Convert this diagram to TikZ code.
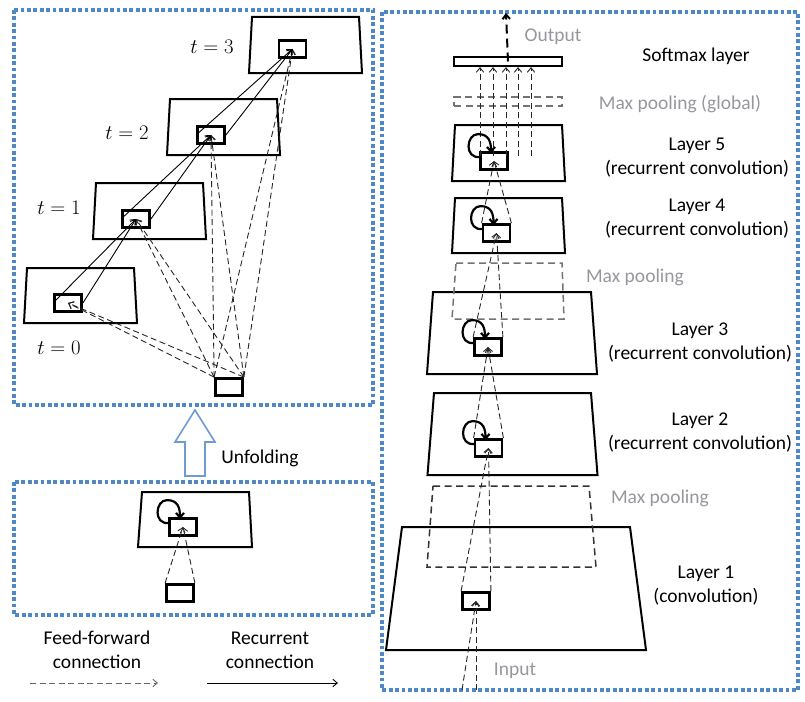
\documentclass[tikz,border=0pt]{standalone}
\usepackage[no-math]{fontspec}
\setmainfont{Carlito}
\usetikzlibrary{calc}
\usetikzlibrary{positioning}
\usetikzlibrary{arrows.meta}
\definecolor{frameblue}{RGB}{79,136,198}
\definecolor{arrowblue}{RGB}{110,155,210}
\definecolor{paletext}{RGB}{150,150,158}
\definecolor{poolgray}{RGB}{115,115,115}

\begin{document}
\begin{tikzpicture}[x=1pt,y=-1pt,>={Straight Barb[length=4.5pt,width=7.5pt]},
    plane/.style={line width=2pt,line join=miter},
    unit/.style={draw,line width=2.8pt,minimum width=27pt,minimum height=17pt,inner sep=0pt},
    ff/.style={->,draw=black!85,line width=0.9pt,dash pattern=on 6pt off 3.5pt},
    rec/.style={->,line width=0.9pt},
    loopback/.style={-{Straight Barb[length=4.5pt,width=8pt]},line width=2.2pt},
    pool/.style={line width=1.5pt,dash pattern=on 7pt off 4.5pt},
    frame/.style={draw=frameblue,line width=3.8pt,dash pattern=on 3.8pt off 2.6pt},
    lbl/.style={font=\fontsize{19.5}{24}\selectfont,align=center,inner sep=0pt},
    pale/.style={lbl,text=paletext}]
    \useasboundingbox (0,0) rectangle (805,701);
    % frames
    \draw[frame] (14,10) rectangle (373,405);
    \draw[frame] (14,482) rectangle (373,615);
    \draw[frame] (382,12) rectangle (798,690);

    % unfolded network in time
    \foreach \cx/\yt/\yb in {80.5/268/323,149.5/183/239,223.5/99/155,305.5/17/73}
        \draw[plane] (\cx-53.5,\yt) -- (\cx+53.5,\yt) -- (\cx+56.5,\yb) -- (\cx-56.5,\yb) -- cycle;
    \foreach \t/\ux/\uy in {0/68/303,1/136/219,2/211/135,3/292.5/49}
        \node[unit] (u\t) at (\ux,\uy) {};
    \node[unit] (x) at (229,387) {};
    \node[lbl] (t3) at (212,47) {$t=3$};
    \node[lbl] (t2) at (127,133) {$t=2$};
    \node[lbl] (t1) at (59,208) {$t=1$};
    \node[lbl] (t0) at (59,348) {$t=0$};
    \foreach \t in {0,...,3} {
        \draw[ff] (x.north west) -- (u\t.center);
        \draw[ff] (x.north east) -- (u\t.center);
    }
    \foreach \t/\n in {0/1,1/2,2/3} {
        \draw[rec] (u\t.west) -- (u\n.center);
        \draw[rec] (u\t.east) -- (u\n.center);
    }

    % unfolding arrow
    \draw[draw=arrowblue,line width=1.6pt,fill=white,line join=miter]
        (195,410) -- (215,442) -- (205,442) -- (205,476) -- (185,476) -- (185,442) -- (175,442) -- cycle;
    \node[lbl] (unfold) at (260,458) {Unfolding};

    % folded network
    \draw[plane] (142,492) -- (249,492) -- (252,547) -- (138,547) -- cycle;
    \node[unit] (b) at (183,527) {};
    \node[unit] (bx) at (180,593) {};
    \draw[ff] (bx.north west) -- (b.center);
    \draw[ff] (bx.north east) -- (b.center);

    % legend
    \node[lbl] (fflbl) at (97,650) {Feed-forward\\connection};
    \node[lbl] (reclbl) at (270,650) {Recurrent\\connection};
    \coordinate (ffa) at (30,683);
    \coordinate (ffb) at (158,683);
    \coordinate (reca) at (207,683);
    \coordinate (recb) at (338,683);
    \draw[ff,draw=black!60] (ffa) -- (ffb);
    \draw[rec] (reca) -- (recb);

    % deep network
    \foreach \cx/\yt/\yb/\ht/\hb in {508.5/125/181/53.5/56.5,508.5/198/253/53.5/56.5,
            512/292/374/79/85,512.5/393/475/78.5/85,516/527/650/114/130}
        \draw[plane] (\cx-\ht,\yt) -- (\cx+\ht,\yt) -- (\cx+\hb,\yb) -- (\cx-\hb,\yb) -- cycle;
    \draw[pool,draw=poolgray] (456,263) -- (562,263) -- (564,319) -- (452,319) -- cycle;
    \draw[pool,draw=black!80] (433,486) -- (589,486) -- (596,567) -- (427,567) -- cycle;
    \node[draw,line width=2.2pt,minimum width=108pt,minimum height=9pt,inner sep=0pt] (soft) at (508,61.5) {};
    \node[pool,draw=poolgray,minimum width=108pt,minimum height=9pt,inner sep=0pt] (gpool) at (508,101.5) {};
    \foreach \s/\ux/\uy in {s1/476/601,s2/488.5/448,s3/488/347,s4/496.5/233,s5/494/161}
        \node[unit] (\s) at (\ux,\uy) {};
    \coordinate (in0) at (462,690);
    \coordinate (in1) at (476,690);
    \coordinate (out) at (506,13);
    \draw[ff] (in0) -- (s1.center);
    \draw[ff] (in1) -- (s1.center);
    \foreach \a/\b in {s1/s2,s2/s3,s3/s4,s4/s5} {
        \draw[ff] (\a.north west) -- (\b.center);
        \draw[ff] (\a.north east) -- (\b.center);
    }
    \foreach \dx in {-26,-13,0,12,25}
        \draw[ff] ($(s5.north)+(\dx+12,5)$) -- ($(soft.south)+(\dx-2,0)$);
    \draw[->,line width=2pt,dash pattern=on 9pt off 5pt] (soft.center) -- (out);
    \foreach \s in {s2,s3,s4,s5,b}
        \draw[loopback] ($(\s.west)+(1,-4)$) .. controls +(-16,2) and +(-12,0) .. ($(\s.north)+(-16,-17)$)
            .. controls +(11,0) and +(0,-11) .. ($(\s.north)+(-3,2)$);

    % labels
    \node[pale] (outlbl) at (553,37) {Output};
    \node[lbl] (softlbl) at (696,56) {Softmax layer};
    \node[pale] (gpoollbl) at (680,104) {Max pooling (global)};
    \node[lbl] (l5) at (697,158) {Layer 5\\(recurrent convolution)};
    \node[lbl] (l4) at (697,219) {Layer 4\\(recurrent convolution)};
    \node[pale] (pool2lbl) at (635,277) {Max pooling};
    \node[lbl] (l3) at (700,343) {Layer 3\\(recurrent convolution)};
    \node[lbl] (l2) at (700,433) {Layer 2\\(recurrent convolution)};
    \node[pale] (pool1lbl) at (660,498) {Max pooling};
    \node[lbl] (l1) at (706,586) {Layer 1\\(convolution)};
    \node[pale] (inlbl) at (515,671) {Input};
\end{tikzpicture}
\end{document}
